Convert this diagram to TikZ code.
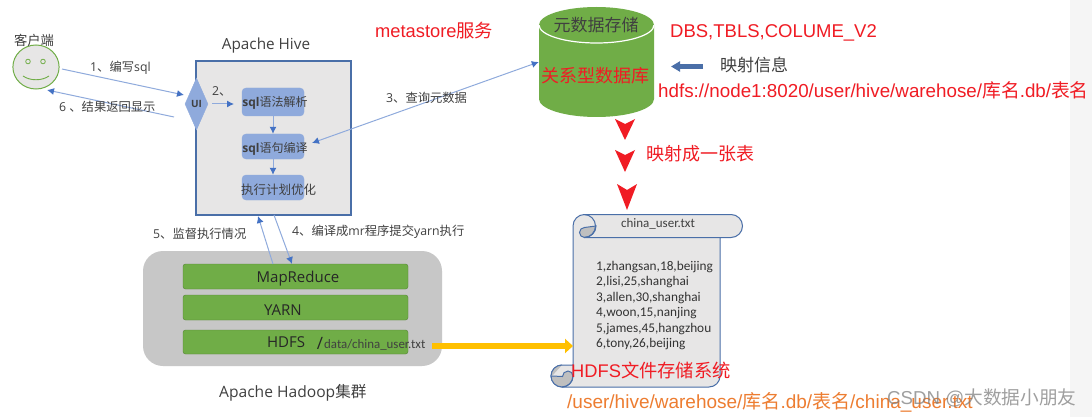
\documentclass[tikz,border=0pt]{standalone}
\usepackage{fontspec}
\setmainfont{Liberation Sans}
\newfontfamily\cjk{Noto Sans CJK SC}
\newfontfamily\opensans{Open Sans}
\newfontfamily\carlito{Carlito}
\usetikzlibrary{arrows.meta,shapes.geometric,positioning}
\newcommand{\zh}[1]{{\cjk #1}}
\newcommand{\fs}[1]{\fontsize{#1}{#1}\selectfont}
\definecolor{linkblue}{HTML}{8FAADC}
\definecolor{tipblue}{HTML}{4472C4}
\definecolor{edgeblue}{HTML}{4A6FA8}
\definecolor{panel}{HTML}{E7E6E6}
\definecolor{leaf}{HTML}{70AD47}
\definecolor{leafedge}{HTML}{548235}
\definecolor{alert}{HTML}{F01C24}
\definecolor{note}{HTML}{ED7D31}
\definecolor{ink}{HTML}{404040}
\definecolor{amber}{HTML}{FFC000}
\tikzset{
	flow/.style={draw=linkblue,line width=1pt,-{Latex[color=tipblue,length=7pt,width=7pt]}},
	stage/.style={draw=linkblue,rounded corners=4pt,fill=linkblue,minimum width=62pt,inner sep=0pt},
	stagelbl/.style={inner sep=0pt,font=\opensans\fs{12},text=ink},
	layer/.style={draw=leafedge,fill=leaf,rounded corners=2.5pt,minimum width=225pt,inner sep=0pt},
	layerlbl/.style={inner sep=0pt,text=black!85,font=\opensans\fs{15}},
	lbl/.style={anchor=west,inner sep=0pt,text=ink,font=\opensans\fs{12.3}},
	redlbl/.style={anchor=west,inner sep=0pt,text=alert,font=\fs{18.3}},
	tiplet/.style={fill=alert},
	curl/.style={draw=edgeblue,line width=1pt,fill=black!25},
}
\begin{document}
\begin{tikzpicture}[x=1pt,y=-1pt]
	\useasboundingbox (0,0) rectangle (1092,417);
	\fill[white] (0,0) rectangle (1092,417);
	\fill[black!4] (1070,0) rectangle (1092,417);

	% client
	\node[circle,draw=leaf,line width=1pt,fill=panel,minimum width=44pt,inner sep=0pt,xscale=1.05] (face) at (36,67) {};
	\fill[panel,draw=leaf,line width=.8pt] (28,61.5) circle (2.3);
	\fill[panel,draw=leaf,line width=.8pt] (43,61.5) circle (2.3);
	\draw[leaf,line width=.9pt] (23,76) .. controls (30,81) and (42,81) .. (49,76);
	\node[anchor=center,inner sep=0pt,text=ink,font=\cjk\fs{13.3}] (clientlbl) at (34,40) {客户端};

	% hive
	\node[draw=edgeblue,line width=1.2pt,fill=panel,minimum width=155pt,minimum height=154pt,inner sep=0pt] (hive) at (273.5,138) {};
	\node[inner sep=0pt,text=ink,font=\opensans\fs{15.3}] (hivelbl) at (266,46) {Apache Hive};
	\node[diamond,draw=linkblue,fill=linkblue,minimum width=23pt,minimum height=52pt,inner sep=0pt,aspect=.44] (ui) at (196.5,104) {};
	\node[inner sep=0pt,font=\opensans\bfseries\fs{10},text=ink] (uilbl) at (196.5,104) {UI};
	\node[stage,minimum height=28pt] (parse) at (273,102) {};
	\node[stage,minimum height=25pt] (compile) at (273,146.5) {};
	\node[stage,minimum height=25pt] (plan) at (273,187.5) {};
	\node[stagelbl] (parselbl) at (275,103) {\textbf{sql}\zh{语法解析}};
	\node[stagelbl] (compilelbl) at (275,149) {\textbf{sql}\zh{语句编译}};
	\node[stagelbl,font=\cjk\fs{12.5}] (planlbl) at (278.5,190) {执行计划优化};
	\draw[flow] (parse) -- (compile);
	\draw[flow] (compile) -- (plan);
	\coordinate (uiright) at (212,104);
	\coordinate (parsein) at (234,104);
	\draw[flow] (uiright) -- (parsein);

	% hadoop
	\node[draw=none,fill=black!22,rounded corners=20pt,minimum width=299pt,minimum height=115pt,inner sep=0pt] (hadoop) at (292.5,308.5) {};
	\node[layer,minimum height=25pt] (mr) at (295.5,276.5) {};
	\node[layer,minimum height=25pt] (yarn) at (295.5,307.5) {};
	\node[layer,minimum height=24pt] (hdfs) at (295.5,342) {};
	\node[layerlbl] (mrlbl) at (298,279) {MapReduce};
	\node[layerlbl] (yarnlbl) at (283,310) {YARN};
	\node[layerlbl] (hdfslbl) at (286,342) {HDFS};
	\node[layerlbl,font=\opensans\fs{17}] (slash) at (320,343) {/};
	\node[anchor=west,inner sep=0pt,text=ink,font=\carlito\fs{12.9}] (datapath) at (324,345) {data/china\_user.txt};
	\node[anchor=west,inner sep=0pt,text=ink,font=\opensans\fs{15.6}] (hadooplbl) at (219,393) {Apache Hadoop\zh{集群}};

	% metastore
	\node[inner sep=0pt,minimum width=115pt,minimum height=109pt] (metastore) at (596.5,62) {};
	\fill[leaf] (539,25) -- (539,99) arc[start angle=180,end angle=0,x radius=57.5,y radius=18] -- (654,25) arc[start angle=0,end angle=-180,x radius=57.5,y radius=18] -- cycle;
	\draw[white,line width=1.2pt] (539,25) arc[start angle=180,end angle=0,x radius=57.5,y radius=18];
	\node[inner sep=0pt,text=ink,font=\cjk\fs{17}] (toplbl) at (596,25) {元数据存储};
	\node[inner sep=0pt,text=alert,font=\cjk\fs{18}] (dblbl) at (595,76) {关系型数据库};

	% scroll
	\filldraw[draw=edgeblue,line width=1pt,fill=panel] (584,214.5) -- (731,214.5) arc[start angle=-90,end angle=90,radius=11.5] -- (720,237.5) -- (720,376) arc[start angle=0,end angle=90,radius=11] -- (562,387) arc[start angle=90,end angle=270,radius=11] -- (573,365) -- (573,226) arc[start angle=180,end angle=270,radius=11.5] -- cycle;
	\filldraw[curl] (596,226) arc[start angle=0,end angle=90,radius=11.5] arc[start angle=90,end angle=180,radius=5] arc[start angle=180,end angle=270,radius=5] -- cycle;
	\draw[draw=edgeblue,line width=1pt] (584,214.5) arc[start angle=-90,end angle=90,radius=11.5] -- (720,237.5);
	\filldraw[curl] (562,365) arc[start angle=270,end angle=90,radius=11] arc[start angle=90,end angle=0,radius=11] arc[start angle=0,end angle=-90,radius=5] arc[start angle=270,end angle=180,radius=5.5] -- (552,376) ;
	\draw[draw=edgeblue,line width=1pt] (573,365) -- (573,376) arc[start angle=0,end angle=90,radius=11];
	\node[inner sep=0pt,text=ink,font=\carlito\fs{13}] (filelbl) at (658,224) {china\_user.txt};
	\foreach \n/\t/\yy in {1/{1,zhangsan,18,beijing}/267,2/{2,lisi,25,shanghai}/282,3/{3,allen,30,shanghai}/298,4/{4,woon,15,nanjing}/313,5/{5,james,45,hangzhou}/329,6/{6,tony,26,beijing}/344}
		\node[anchor=west,inner sep=0pt,text=black!80,font=\carlito\fs{13.3}] (row\n) at (596,\yy) {\t};

	% connectors
	\coordinate (clientout) at (62,69);
	\coordinate (uiin) at (184,95);
	\coordinate (uiout) at (174,117);
	\coordinate (clientin) at (47,90);
	\draw[flow] (clientout) -- (uiin);
	\draw[flow] (uiout) -- (clientin);
	\coordinate (compileside) at (312,143);
	\draw[flow,{Latex[color=tipblue,length=7pt,width=7pt]}-{Latex[color=tipblue,length=7pt,width=7pt]}] (compileside) -- (metastore.west);
	\coordinate (hiveleft) at (258,216);
	\coordinate (hiveright) at (274,215);
	\coordinate (mrleft) at (273,264);
	\coordinate (mrright) at (292,264);
	\draw[flow] (mrleft) -- (hiveleft);
	\draw[flow] (hiveright) -- (mrright);
	\coordinate (pathend) at (432,346);
	\coordinate (scrollin) at (573,346);
	\draw[amber,line width=6pt,-{Triangle[length=8pt,width=14pt]}] (pathend) -- (scrollin);
	\coordinate (infostart) at (703,66.5);
	\coordinate (infoend) at (671,66.5);
	\draw[edgeblue,line width=5pt,-{Triangle[length=9pt,width=10pt]}] (infostart) -- (infoend);

	% red heads
	\foreach \rx/\ry/\rn/\rh in {625/119/124/140,625/150/155/172,627/184/190/210}
		\fill[tiplet] (\rx-10,\ry) -- (\rx,\rn) -- (\rx+10,\ry) -- (\rx,\rh) -- cycle;

	% labels
	\node[lbl] (lab1) at (90,68) {1\zh{、编写}sql};
	\node[lbl] (lab6) at (59,107) {6 \zh{、结果返回显示}};
	\node[lbl] (lab2) at (212,91) {2\zh{、}};
	\node[lbl] (lab3) at (386,98) {3\zh{、查询元数据}};
	\node[lbl] (lab5) at (153,234) {5\zh{、监督执行情况}};
	\node[lbl] (lab4) at (292,232) {4\zh{、编译成}mr\zh{程序提交}yarn\zh{执行}};
	\node[redlbl] (metalbl) at (375,31) {metastore\zh{服务}};
	\node[redlbl,font=\fs{18.5}] (tables) at (670,33) {DBS,TBLS,COLUME\_V2};
	\node[lbl,font=\cjk\fs{17}] (maplbl) at (720,65) {映射信息};
	\node[redlbl,font=\fs{18.8}] (hdfsurl) at (658,90) {hdfs://node1:8020/user/hive/warehose/\zh{库名}.db/\zh{表名}};
	\node[redlbl,font=\cjk\fs{18}] (tablelbl) at (646,154) {映射成一张表};
	\node[redlbl] (fslbl) at (571,370) {HDFS\zh{文件存储系统}};
	\node[redlbl,text=note,font=\fs{19}] (warelbl) at (567,402) {/user/hive/warehose/\zh{库名}.db/\zh{表名}/china\_user.txt};
	\node[anchor=west,inner sep=0pt,text=black!50,opacity=.75,font=\fs{18.7}] (mark) at (887,398) {CSDN @\zh{大数据小朋友}};
\end{tikzpicture}
\end{document}
